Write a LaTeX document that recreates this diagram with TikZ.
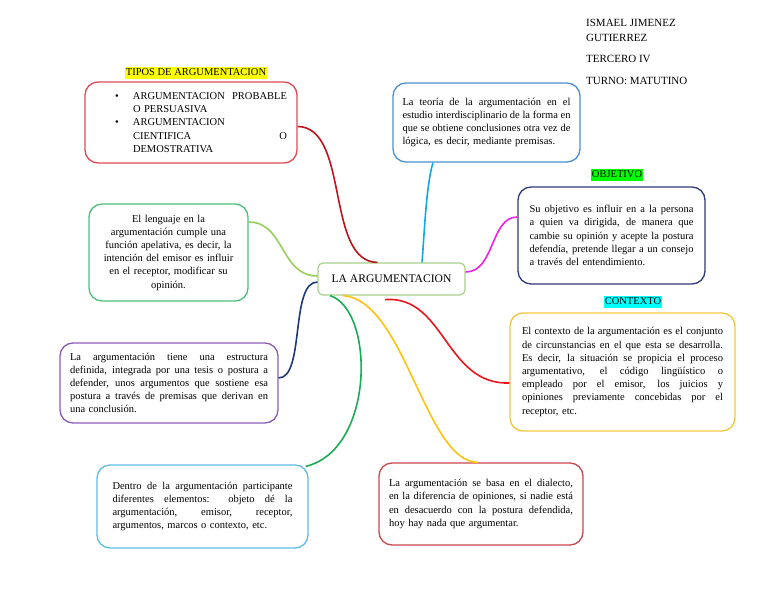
\documentclass[tikz,border=0pt]{standalone}
\usepackage{fontspec}
\setmainfont{Liberation Serif}
\setlength\parindent{0pt}
\newcommand\bodyfont{\fontsize{10.5}{13.2}\selectfont}
\newcommand\jw[2]{{\spaceskip=0pt\xspaceskip=0pt\makebox[#1][s]{#2}}}
\newcommand\jl[1]{\jw{\hsize}{#1}}
\definecolor{tiposC}{HTML}{E04A55}
\definecolor{teoriaC}{HTML}{4A90D0}
\definecolor{lengC}{HTML}{4CC07A}
\definecolor{objC}{HTML}{2E3A78}
\definecolor{ctxC}{HTML}{F8C440}
\definecolor{strC}{HTML}{8A5CB8}
\definecolor{dentroC}{HTML}{5BBDE8}
\definecolor{dialC}{HTML}{C8474F}
\definecolor{centerC}{HTML}{A8CF8C}
\definecolor{cA}{HTML}{C0141C}
\definecolor{cB}{HTML}{12A8E8}
\definecolor{cC}{HTML}{98CE5A}
\definecolor{cD}{HTML}{F020E8}
\definecolor{cE}{HTML}{1F3A78}
\definecolor{cF}{HTML}{1BAA55}
\definecolor{cG}{HTML}{FFC20E}
\definecolor{cH}{HTML}{E8141C}
\definecolor{hlY}{HTML}{FFFF00}
\definecolor{hlG}{HTML}{00FF00}
\definecolor{hlC}{HTML}{00FFFF}
\tikzset{
  bx/.style={draw=#1, line width=1.3pt, rounded corners=13pt, inner sep=0pt, align=left, font=\bodyfont},
  con/.style={line width=1.6pt, draw=#1},
  hl/.style={fill=#1, inner xsep=1pt, inner ysep=0.5pt, text height=8pt, text depth=2.5pt, font=\fontsize{10.5}{12}\selectfont},
  nm/.style={anchor=west, inner sep=0pt, font=\fontsize{11}{13}\selectfont},
}
\begin{document}
\begin{tikzpicture}[x=1pt,y=-1pt]
\useasboundingbox (0,0) rectangle (768,594);

% central node
\node[draw=centerC, line width=1.2pt, rounded corners=5pt, minimum width=147pt, minimum height=32pt, inner sep=0pt, font=\fontsize{11.6}{13}\selectfont] (c) at (391.5,279) {LA ARGUMENTACION};

% author
\node[nm] (n1) at (586,23) {ISMAEL JIMENEZ};
\node[nm] (n2) at (586,37.5) {GUTIERREZ};
\node[nm] (n3) at (586,59) {TERCERO IV};
\node[nm] (n4) at (586,81) {TURNO: MATUTINO};

% headings
\node[hl=hlY] (h1) at (196,73) {TIPOS DE ARGUMENTACION};
\node[hl=hlG] (h2) at (617,175) {OBJETIVO};
\node[hl=hlC] (h3) at (633,302) {CONTEXTO};

% boxes
\node[bx=tiposC, minimum width=212pt, minimum height=81pt, text width=212pt] (tipos) at (191,122.5) {%
\hspace*{30pt}\makebox[18pt][l]{\textbullet}\jw{154pt}{ARGUMENTACION PROBABLE}\\
\hspace*{48pt}O PERSUASIVA\\
\hspace*{30pt}\makebox[18pt][l]{\textbullet}ARGUMENTACION\\
\hspace*{48pt}\jw{154pt}{CIENTIFICA O}\\
\hspace*{48pt}DEMOSTRATIVA};

\node[bx=teoriaC, minimum width=187pt, minimum height=79pt, text width=168pt] (teoria) at (486.5,122.5) {%
\jl{La teoría de la argumentación en el}\\
\jl{estudio interdisciplinario de la forma en}\\
\jl{que se obtiene conclusiones otra vez de}\\
lógica, es decir, mediante premisas.};

\node[bx=lengC, minimum width=159pt, minimum height=97pt, text width=150pt, align=center] (leng) at (168.5,252.5) {%
El lenguaje en la\\
argumentación cumple una\\
función apelativa, es decir, la\\
intención del emisor es influir\\
en el receptor, modificar su\\
opinión.};

\node[bx=objC, minimum width=187pt, minimum height=97pt, text width=164pt] (obj) at (611.5,235.5) {%
\jl{Su objetivo es influir en a la persona}\\
\jl{a quien va dirigida, de manera que}\\
\jl{cambie su opinión y acepte la postura}\\
\jl{defendía, pretende llegar a un consejo}\\
a través del entendimiento.};

\node[bx=ctxC, minimum width=225pt, minimum height=118pt, text width=201pt] (ctx) at (622.5,372) {%
\jl{El contexto de la argumentación es el conjunto}\\
\jl{de circunstancias en el que esta se desarrolla.}\\
\jl{Es decir, la situación se propicia el proceso}\\
\jl{argumentativo, el código lingüístico o}\\
\jl{empleado por el emisor, los juicios y}\\
\jl{opiniones previamente concebidas por el}\\
receptor, etc.};

\node[bx=strC, minimum width=218pt, minimum height=80pt, text width=198pt] (str) at (169,383) {%
\jl{La argumentación tiene una estructura}\\
\jl{definida, integrada por una tesis o postura a}\\
\jl{defender, unos argumentos que sostiene esa}\\
\jl{postura a través de premisas que derivan en}\\
una conclusión.};

\node[bx=dentroC, minimum width=211pt, minimum height=83pt, text width=180pt] (dentro) at (202.5,506.5) {%
\jl{Dentro de la argumentación participante}\\
\jl{diferentes elementos: objeto dé la}\\
\jl{argumentación, emisor, receptor,}\\
argumentos, marcos o contexto, etc.};

\node[bx=dialC, minimum width=204pt, minimum height=82pt, text width=184pt] (dial) at (481,504) {%
\jl{La argumentación se basa en el dialecto,}\\
\jl{en la diferencia de opiniones, si nadie está}\\
\jl{en desacuerdo con la postura defendida,}\\
hoy hay nada que argumentar.};

% connectors
\draw[con=cA] ([yshift=-4pt]tipos.east) .. controls (350,127) and (325,262) .. ([xshift=-14pt]c.north);
\draw[con=cB] ([xshift=-53.5pt]teoria.south) .. controls (426,185) and (424,240) .. ([xshift=30.5pt]c.north);
\draw[con=cC] ([yshift=30.5pt]leng.east) .. controls (285,222) and (280,276) .. ([yshift=3pt]c.west);
\draw[con=cD] ([yshift=7pt]c.east) .. controls (495,272) and (490,217) .. ([yshift=18.5pt]obj.west);
\draw[con=cE] ([yshift=-3pt]c.west) .. controls (290,282) and (305,378) .. ([yshift=5pt]str.east);
\draw[con=cF] ([xshift=-61.5pt]c.south) .. controls (375,310) and (375,450) .. ([xshift=-3pt,yshift=-2pt]dentro.north east);
\draw[con=cG] ([xshift=-48.5pt]c.south) .. controls (405,300) and (425,462) .. ([xshift=-3pt]dial.north);
\draw[con=cH] ([xshift=-6.5pt,yshift=-4pt]c.south) .. controls (445,295) and (445,385) .. ([yshift=-11pt]ctx.west);
\end{tikzpicture}
\end{document}
